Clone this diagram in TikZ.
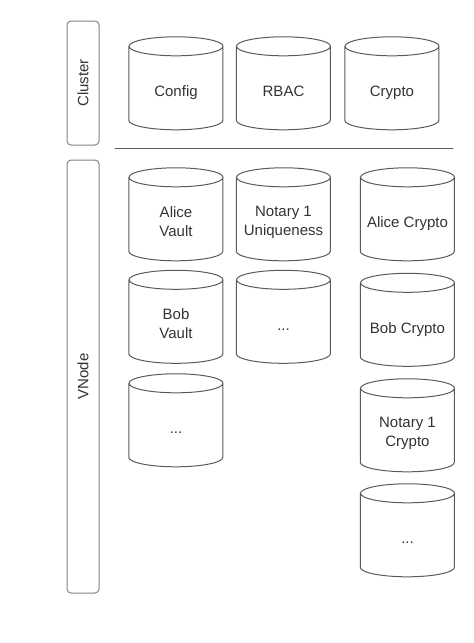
\documentclass[tikz,border=0pt]{standalone}
\usepackage{fontspec}
\setmainfont{Liberation Sans}

\definecolor{edge}{HTML}{5A5A5A}
\definecolor{ink}{HTML}{333333}

\tikzset{
    % node = cylinder body below the front edge of its top ellipse
    db/.style={rectangle, minimum width=94pt, minimum height=74pt, inner sep=0pt,
        text=ink, align=center, font=\fontsize{15}{19}\selectfont,
        execute at begin node=\strut, execute at end node=\strut,
        append after command={\pgfextra{
            \draw[edge, line width=1pt]
                (\tikzlastnode.north) ++(0,-9.5) ellipse [x radius=47pt, y radius=9.5pt]
                (\tikzlastnode.north west) ++(0,-9.5) -- ++(0,74)
                arc [start angle=180, end angle=360, x radius=47pt, y radius=9.5pt]
                -- ++(0,-74);
        }}},
    group/.style={draw=edge!75, line width=1pt, rounded corners=4pt,
        minimum width=32pt, inner sep=0pt},
    grouplabel/.style={rotate=90, text=ink, font=\fontsize{15}{18}\selectfont}
}

\begin{document}
\begin{tikzpicture}[line cap=round, line join=round, x=1pt, y=-1pt]
    \useasboundingbox (0, 0) rectangle (474, 643);

    % Cluster
    \node[group, minimum height=124pt] (cluster) at (83, 83) {};
    \node[grouplabel] (clusterlabel) at (cluster.center) {Cluster};
    \node[db] (config) at (176, 93) {Config};
    \node[db] (rbac) at (283.5, 93) {RBAC};
    \node[db] (crypto) at (392, 93) {Crypto};

    % separator
    \draw[edge, line width=1pt] (115, 148) -- (453, 148);

    % VNode
    \node[group, minimum height=433pt] (vnode) at (83, 376.5) {};
    \node[grouplabel] (vnodelabel) at (vnode.center) {VNode};

    % Column 1
    \node[db] (aliceVault) at (176, 224) {Alice\\Vault};
    \node[db] (bobVault) at (176, 326.5) {Bob\\Vault};
    \node[db] (moreVaults) at (176, 430) {...};

    % Column 2
    \node[db] (notaryUniq) at (283.5, 224) {Notary 1\\Uniqueness};
    \node[db] (moreUniq) at (283.5, 326.5) {...};

    % Column 3
    \node[db] (aliceCrypto) at (407.5, 224) {Alice Crypto};
    \node[db] (bobCrypto) at (407.5, 329.5) {Bob Crypto};
    \node[db] (notaryCrypto) at (407.5, 435) {Notary 1\\Crypto};
    \node[db] (moreCrypto) at (407.5, 540) {...};
\end{tikzpicture}
\end{document}
